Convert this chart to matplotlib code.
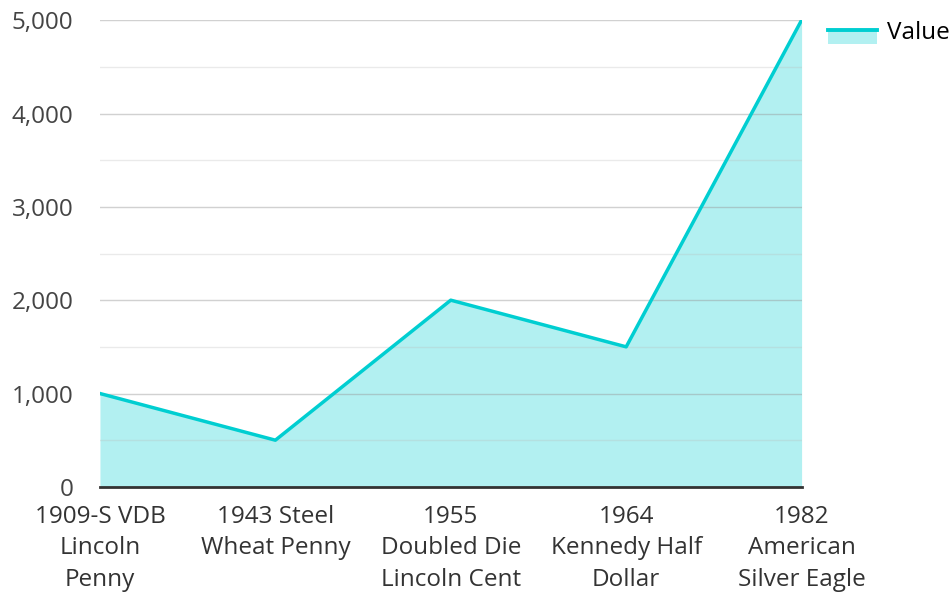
import matplotlib.pyplot as plt
from matplotlib.legend_handler import HandlerBase
from matplotlib.patches import Rectangle
from matplotlib.lines import Line2D
from matplotlib.ticker import FuncFormatter, MultipleLocator

plt.rcParams['font.family'] = ['Open Sans', 'DejaVu Sans']

coins = ["1909-S VDB\nLincoln\nPenny", "1943 Steel\nWheat Penny",
         "1955\nDoubled Die\nLincoln Cent", "1964\nKennedy Half\nDollar",
         "1982\nAmerican\nSilver Eagle"]
values = [1000, 500, 2000, 1500, 5000]

color = "#00CED1"
fill = "#B2F0F1"


class LineOverFill(HandlerBase):
    def create_artists(self, legend, orig, xd, yd, w, h, fontsize, trans):
        mid = -yd + 0.5 * h
        rect = Rectangle((-xd, mid - 0.8 * h), w, 0.8 * h, facecolor=fill,
                         edgecolor="none", transform=trans)
        ln = Line2D([-xd, -xd + w], [mid, mid], color=color, lw=2.8,
                    transform=trans)
        return [rect, ln]


fig = plt.figure(figsize=(9.52, 5.93), dpi=100)
ax = fig.add_axes([0.105, 0.179, 0.737, 0.787])

x = list(range(len(values)))
ax.fill_between(x, values, 0, color=fill, lw=0, zorder=1)
ax.plot(x, values, color=color, lw=2.5, zorder=3)

ax.set_xlim(0, len(values) - 1)
ax.set_ylim(0, 5000)
ax.yaxis.set_major_locator(MultipleLocator(1000))
ax.yaxis.set_minor_locator(MultipleLocator(500))
ax.yaxis.set_major_formatter(FuncFormatter(lambda v, p: f"{int(v):,}"))
ax.grid(axis="y", which="major", color="#999999", alpha=0.45, lw=1, zorder=2)
ax.grid(axis="y", which="minor", color="#bbbbbb", alpha=0.3, lw=1, zorder=2)
ax.set_axisbelow(False)

ax.set_xticks(x)
ax.set_xticklabels(coins, fontsize=17.5, color="#333333", linespacing=1.41)
ax.tick_params(axis="x", length=0, pad=13)
ax.tick_params(axis="y", which="both", length=0, pad=19, labelsize=17.5,
               labelcolor="#444444")

for s in ["top", "right", "left"]:
    ax.spines[s].set_visible(False)
ax.spines["bottom"].set_color("#333333")
ax.spines["bottom"].set_linewidth(2)
ax.spines["bottom"].set_zorder(4)

ax.legend(handles=[Rectangle((0, 0), 1, 1)], labels=["Value"],
          handler_map={Rectangle: LineOverFill()}, loc="upper left",
          bbox_to_anchor=(828 / 952, 1 - 21 / 593),
          bbox_transform=fig.transFigure, frameon=False, fontsize=17.5,
          handlelength=2.0, handletextpad=0.42, borderaxespad=0,
          borderpad=0)

fig.savefig("out.png", dpi=100)
